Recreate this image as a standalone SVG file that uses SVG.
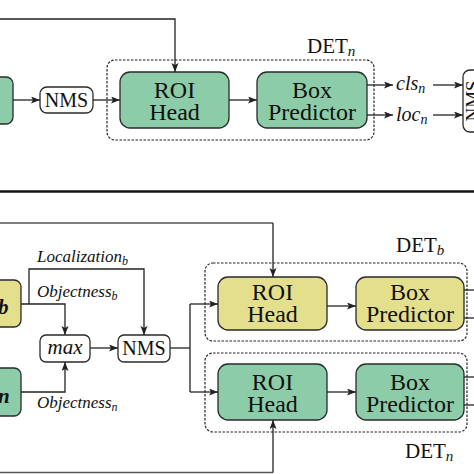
<svg xmlns="http://www.w3.org/2000/svg" width="474" height="474" viewBox="0 0 474 474">
<style>
.t{font-family:"Liberation Serif","DejaVu Serif",serif;fill:#111;}
.i{font-style:italic;}
.box{stroke:#2a2a2a;stroke-width:1.3;}
.g{fill:#8ccca8;}
.y{fill:#e4df8c;}
.w{fill:#fff;}
.det{fill:none;stroke:#222;stroke-width:1.2;stroke-dasharray:2.5 1.5;}
.c{fill:none;stroke:#222;stroke-width:1.3;}
.cg{fill:none;stroke:#555;stroke-width:1.5;}
</style>
<defs>
<marker id="ah" markerUnits="userSpaceOnUse" markerWidth="10" markerHeight="8" refX="9" refY="3.5" orient="auto">
<path d="M0,0 L9,3.5 L0,7 L2,3.5 z" fill="#222"/>
</marker>
</defs>
<rect width="474" height="474" fill="#fff"/>

<line x1="0" y1="191.5" x2="474" y2="191.5" stroke="#111" stroke-width="2.5"/>

<g id="connectors">
<polyline class="c" points="0,19 175,19 175,72" marker-end="url(#ah)"/>
<line class="c" x1="13" y1="100" x2="40" y2="100" marker-end="url(#ah)"/>
<line class="c" x1="93" y1="100" x2="120" y2="100" marker-end="url(#ah)"/>
<line class="c" x1="229" y1="100" x2="257" y2="100" marker-end="url(#ah)"/>
<line class="c" x1="367" y1="85" x2="393" y2="85" marker-end="url(#ah)"/>
<line class="c" x1="367" y1="115" x2="393" y2="115" marker-end="url(#ah)"/>
<line class="c" x1="433" y1="85" x2="463" y2="85" marker-end="url(#ah)"/>
<line class="c" x1="433" y1="115" x2="463" y2="115" marker-end="url(#ah)"/>
<polyline class="cg" points="0,223 273,223"/>
<polyline class="c" points="273,223 273,277" marker-end="url(#ah)"/>
<polyline class="cg" points="0,472.5 273,472.5"/>
<polyline class="c" points="273,472.5 273,420" marker-end="url(#ah)"/>
<polyline class="c" points="21,304 65,304 65,335" marker-end="url(#ah)"/>
<polyline class="c" points="29,304 29,269 144,269 144,335" marker-end="url(#ah)"/>
<polyline class="c" points="21,392 65,392 65,362" marker-end="url(#ah)"/>
<line class="c" x1="90" y1="348" x2="118" y2="348" marker-end="url(#ah)"/>
<polyline class="c" points="170,348 190,348"/>
<line class="c" x1="190" y1="304" x2="190" y2="392"/>
<line class="c" x1="190" y1="304" x2="218" y2="304" marker-end="url(#ah)"/>
<line class="c" x1="190" y1="392" x2="218" y2="392" marker-end="url(#ah)"/>
<line class="c" x1="327" y1="306" x2="356" y2="306" marker-end="url(#ah)"/>
<line class="c" x1="327" y1="392" x2="356" y2="392" marker-end="url(#ah)"/>
<line class="c" x1="464" y1="290" x2="476" y2="290"/>
<line class="c" x1="464" y1="318" x2="476" y2="318"/>
<line class="c" x1="464" y1="377" x2="476" y2="377"/>
<line class="c" x1="464" y1="405" x2="476" y2="405"/>
</g>

<g id="top-left-box"><rect class="box g" x="-12" y="77" width="25" height="47" rx="7"/></g>
<g id="top-nms"><rect class="box w" x="40" y="87" width="53" height="26" rx="7"/>
<text class="t" x="66.5" y="107" font-size="20" text-anchor="middle">NMS</text></g>
<g id="det-n-top"><rect class="det" x="107" y="60" width="267" height="80" rx="8"/>
<text class="t" x="307" y="53" font-size="21">DET<tspan class="i" font-size="15" dy="3">n</tspan></text></g>
<g id="top-roi"><rect class="box g" x="120" y="72" width="109" height="56" rx="10"/>
<text class="t" x="174.5" y="98" font-size="24" text-anchor="middle">ROI</text>
<text class="t" x="174.5" y="120" font-size="24" text-anchor="middle">Head</text></g>
<g id="top-box"><rect class="box g" x="257" y="72" width="110" height="56" rx="10"/>
<text class="t" x="312" y="98" font-size="24" text-anchor="middle">Box</text>
<text class="t" x="312" y="120" font-size="24" text-anchor="middle">Predictor</text></g>
<g id="top-out-labels">
<text class="t i" x="396" y="90" font-size="20">cls<tspan font-size="14" dy="3">n</tspan></text>
<text class="t i" x="396" y="121" font-size="20">loc<tspan font-size="14" dy="3">n</tspan></text>
</g>
<g id="top-right-box"><rect class="box w" x="463" y="70" width="30" height="62" rx="7"/>
<text class="t" font-size="19" text-anchor="middle" transform="translate(479,101) rotate(-90)">NMS</text></g>

<g id="b-left-box"><rect class="box y" x="-12" y="280" width="33" height="47" rx="7"/>
<text class="t i" x="-2" y="314" font-size="21" font-weight="bold">b</text></g>
<g id="n-left-box"><rect class="box g" x="-12" y="368" width="33" height="48" rx="7"/>
<text class="t i" x="-2" y="403" font-size="21" font-weight="bold">n</text></g>
<g id="labels-left">
<text class="t i" x="37" y="262" font-size="17">Localization<tspan font-size="12" dy="3">b</tspan></text>
<text class="t i" x="37" y="297" font-size="17">Objectness<tspan font-size="12" dy="3">b</tspan></text>
<text class="t i" x="37" y="408" font-size="17">Objectness<tspan font-size="12" dy="3">n</tspan></text>
</g>
<g id="max"><rect class="box w" x="40" y="335" width="50" height="27" rx="6"/>
<text class="t i" x="65" y="354" font-size="21" text-anchor="middle">max</text></g>
<g id="bottom-nms"><rect class="box w" x="118" y="335" width="52" height="27" rx="6"/>
<text class="t" x="144" y="355" font-size="20" text-anchor="middle">NMS</text></g>
<g id="det-b"><rect class="det" x="205" y="263" width="262" height="78" rx="8"/>
<text class="t" x="396" y="252" font-size="21">DET<tspan class="i" font-size="15" dy="3">b</tspan></text></g>
<g id="det-n"><rect class="det" x="205" y="353" width="262" height="79" rx="8"/>
<text class="t" x="405" y="458" font-size="21">DET<tspan class="i" font-size="15" dy="3">n</tspan></text></g>
<g id="roi-b"><rect class="box y" x="218" y="277" width="109" height="53" rx="10"/>
<text class="t" x="272.5" y="300" font-size="24" text-anchor="middle">ROI</text>
<text class="t" x="272.5" y="322" font-size="24" text-anchor="middle">Head</text></g>
<g id="box-b"><rect class="box y" x="356" y="277" width="108" height="53" rx="10"/>
<text class="t" x="410" y="300" font-size="24" text-anchor="middle">Box</text>
<text class="t" x="410" y="322" font-size="24" text-anchor="middle">Predictor</text></g>
<g id="roi-n"><rect class="box g" x="218" y="364" width="109" height="56" rx="10"/>
<text class="t" x="272.5" y="390" font-size="24" text-anchor="middle">ROI</text>
<text class="t" x="272.5" y="412" font-size="24" text-anchor="middle">Head</text></g>
<g id="box-n"><rect class="box g" x="356" y="364" width="108" height="56" rx="10"/>
<text class="t" x="410" y="390" font-size="24" text-anchor="middle">Box</text>
<text class="t" x="410" y="412" font-size="24" text-anchor="middle">Predictor</text></g>
</svg>
